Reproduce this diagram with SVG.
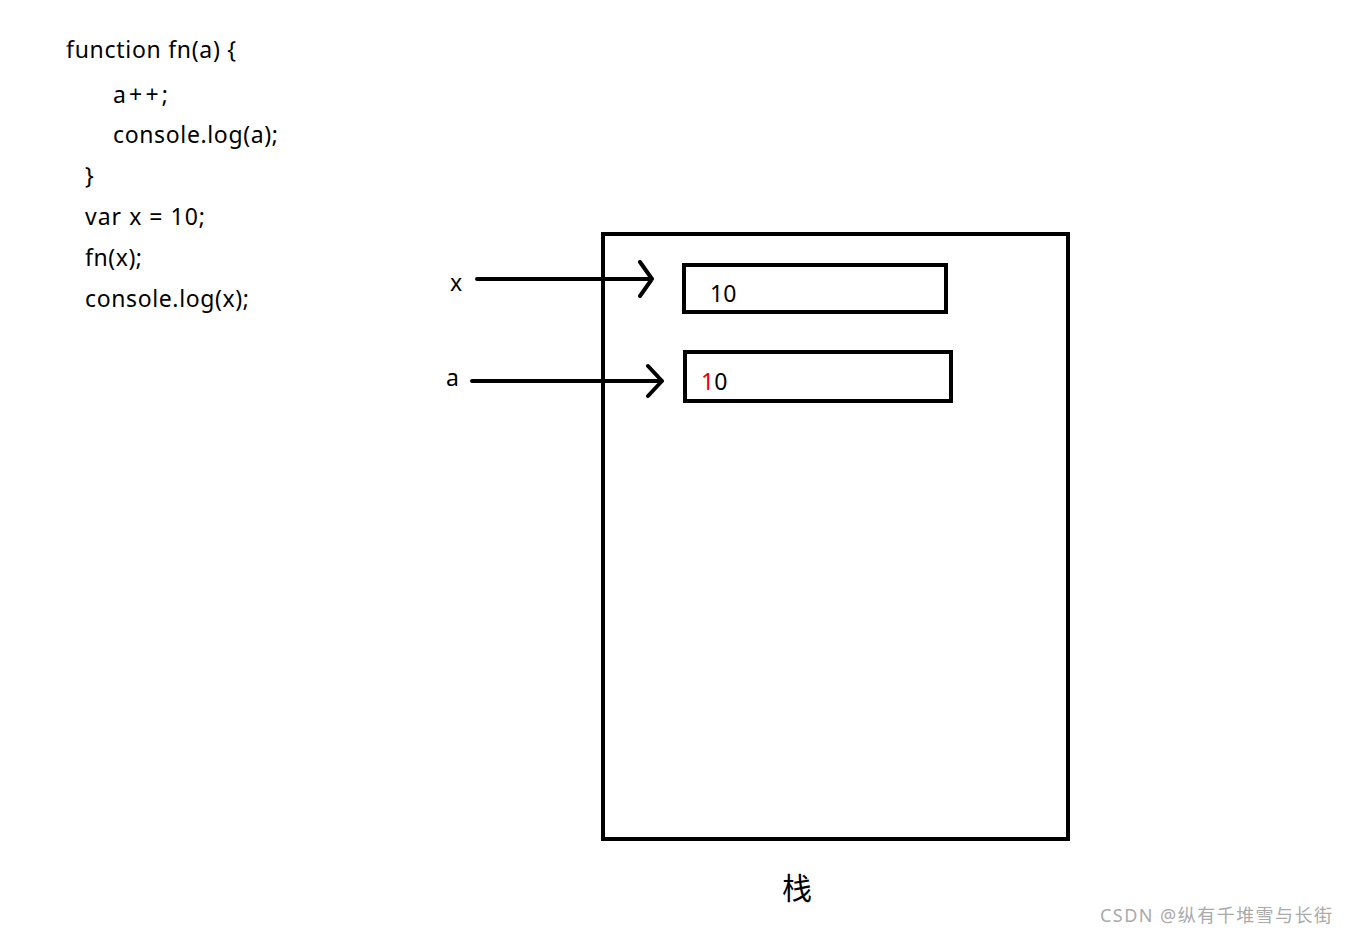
<svg xmlns="http://www.w3.org/2000/svg" width="1347" height="934" viewBox="0 0 1347 934">
<style>
.t{font-family:"Noto Sans","Open Sans","Noto Sans CJK SC",sans-serif;font-size:23px;fill:#000}
.box{fill:none;stroke:#000;stroke-width:4}
.ln{fill:none;stroke:#000;stroke-width:4;stroke-linecap:round;stroke-linejoin:round}
</style>
<rect width="1347" height="934" fill="#fff"/>
<g id="code">
<text class="t" x="66" y="58" textLength="170" lengthAdjust="spacing">function fn(a) {</text>
<text class="t" x="113" y="103" textLength="55" lengthAdjust="spacing">a++;</text>
<text class="t" x="113" y="143" textLength="165" lengthAdjust="spacing">console.log(a);</text>
<text class="t" x="85" y="184">}</text>
<text class="t" x="85" y="225" textLength="120" lengthAdjust="spacing">var x = 10;</text>
<text class="t" x="85" y="266" textLength="57" lengthAdjust="spacing">fn(x);</text>
<text class="t" x="85" y="307" textLength="164" lengthAdjust="spacing">console.log(x);</text>
</g>
<g id="stack">
<rect class="box" x="603" y="234" width="465" height="605"/>
<text x="782" y="899" style="font-size:30px;font-family:'Noto Sans CJK SC',sans-serif">栈</text>
</g>
<g id="boxX">
<rect class="box" x="684" y="265" width="262" height="47"/>
<text class="t" x="710" y="302">10</text>
</g>
<g id="boxA">
<rect class="box" x="685" y="352" width="266" height="49"/>
<text class="t" x="701" y="390"><tspan fill="#e00">1</tspan><tspan>0</tspan></text>
</g>
<g id="labels">
<text class="t" x="450" y="291">x</text>
<text class="t" x="446" y="386">a</text>
</g>
<g id="connectors">
<path class="ln" d="M477 279 H652 M640 262 L652 279 L640 296"/>
<path class="ln" d="M472 381 H662 M648 366 L662 381 L648 396"/>
</g>
<text x="1100" y="922" textLength="232" lengthAdjust="spacing" style="font-family:'Noto Sans','Noto Sans CJK SC',sans-serif;font-size:18px;fill:#aaa">CSDN @纵有千堆雪与长街</text>
</svg>
